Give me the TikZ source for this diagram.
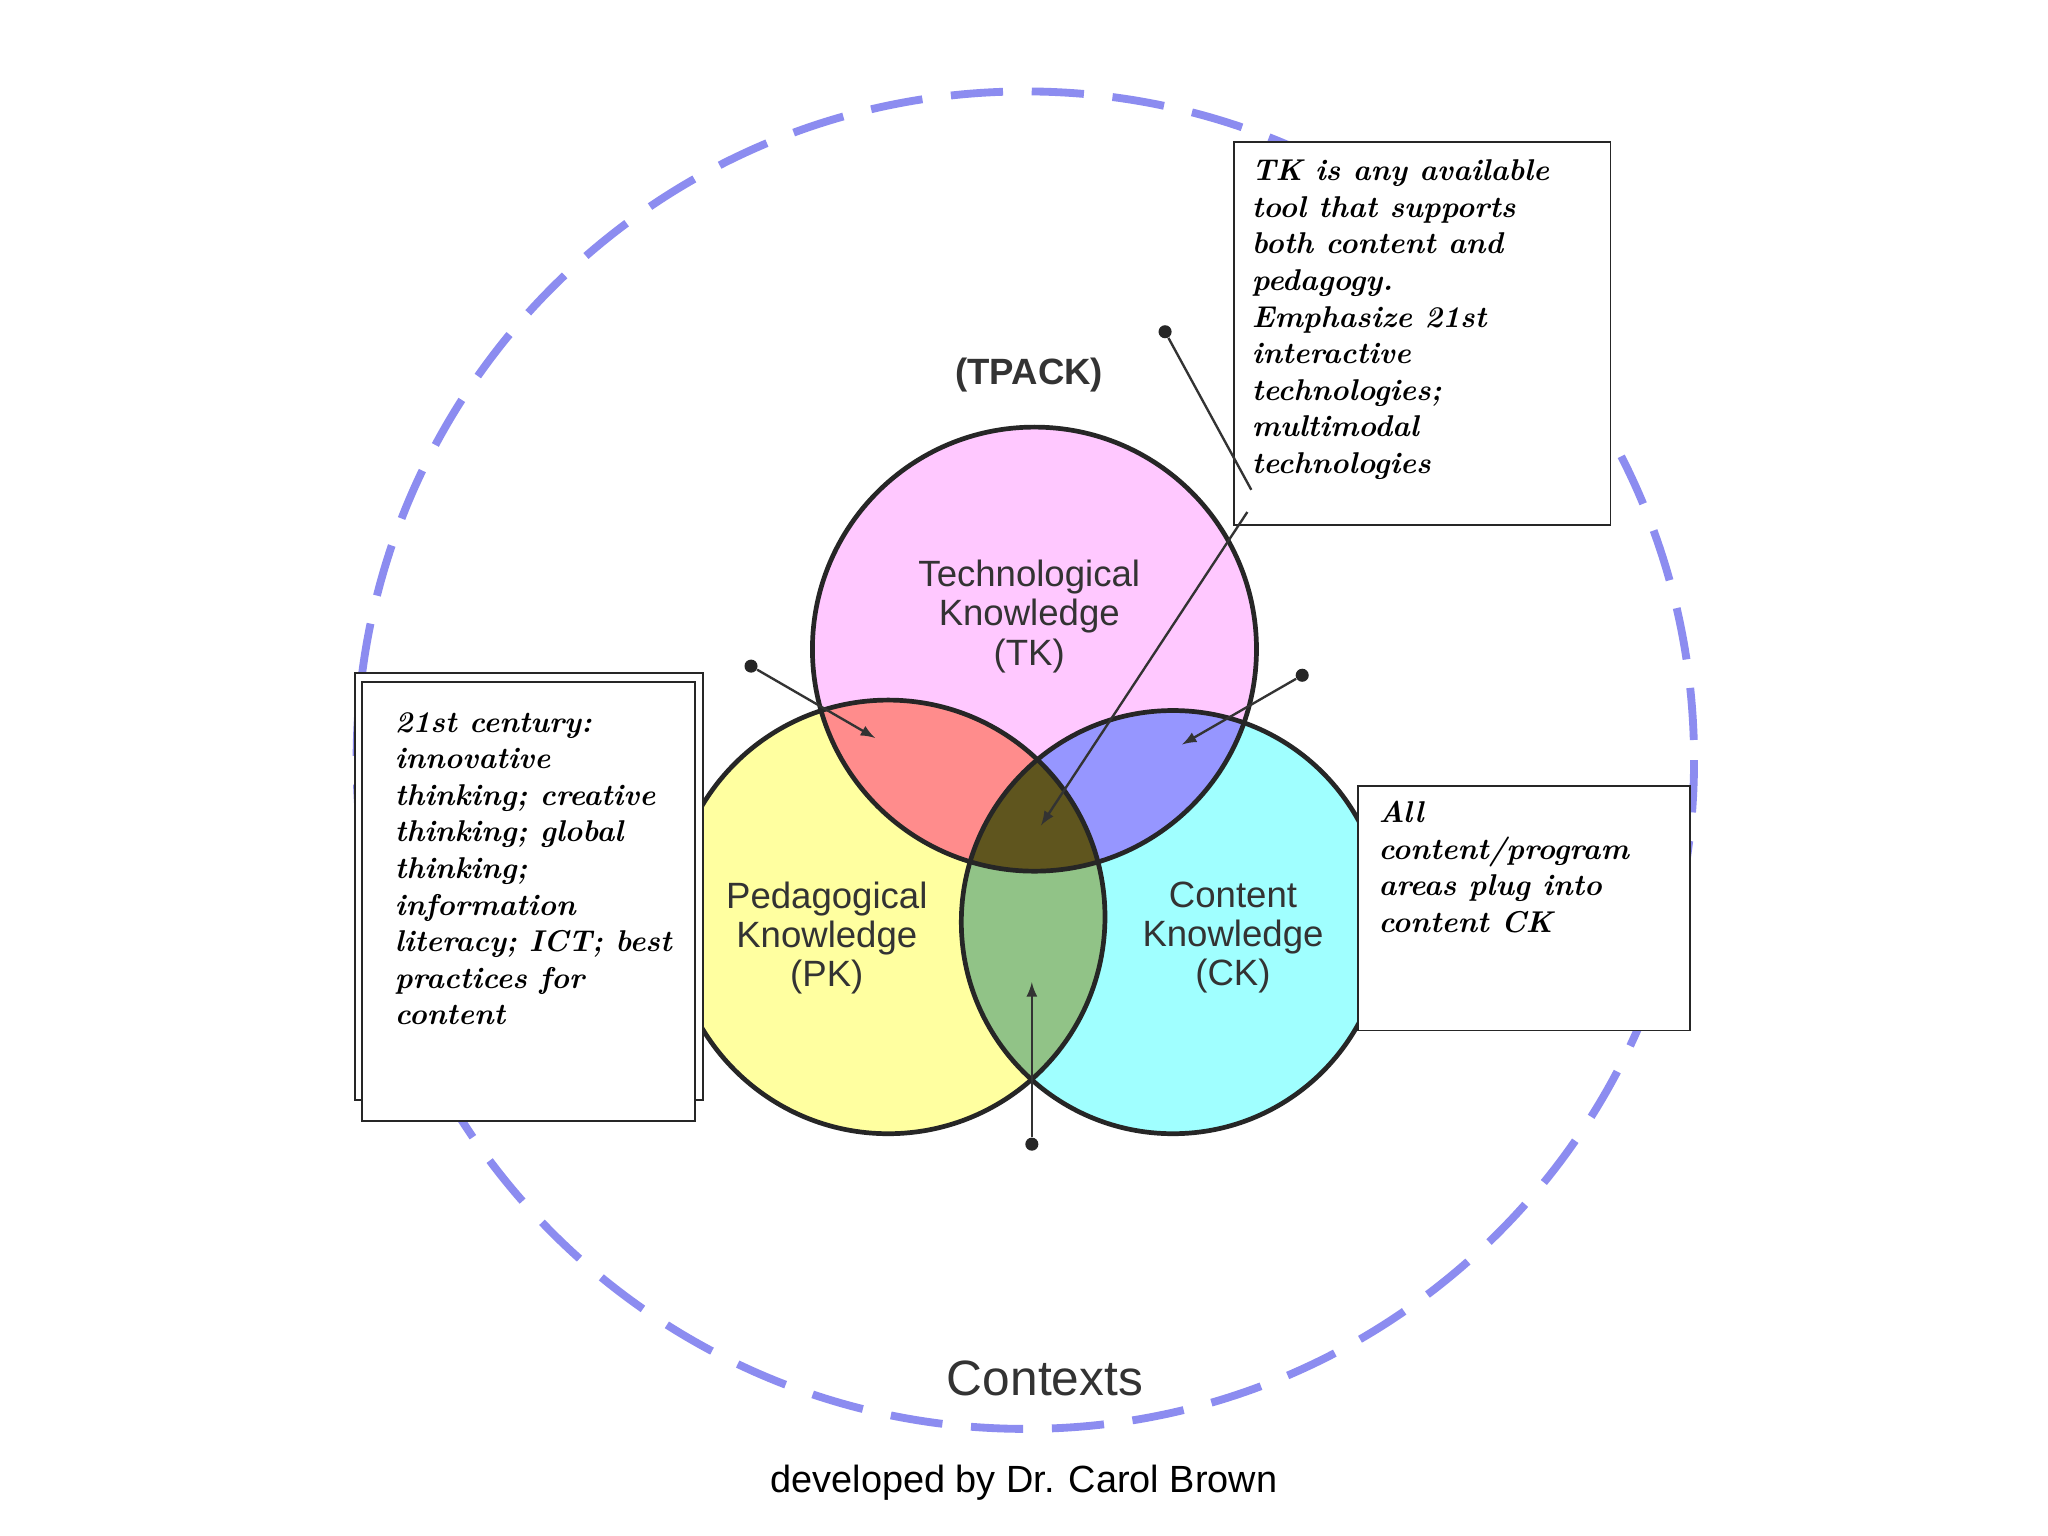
\documentclass[tikz,border=0pt]{standalone}
\usepackage{fontspec}
\setsansfont{Liberation Sans}
\begin{document}
\begin{tikzpicture}[x=0.5pt,y=-0.5pt,
  lbl/.style={font=\sffamily\fontsize{14}{15}\selectfont,align=center,text=black!80},
  note/.style={font=\bfseries\itshape\fontsize{11.5}{14}\selectfont,align=left,anchor=north west,inner sep=0pt},
  box/.style={draw=black!85,fill=white,line width=0.7pt},
  ring/.style={draw=black!85,line width=1.8pt},
  ptr/.style={draw=black!80,line width=0.9pt,-latex},
  dot/.style={circle,fill=black!85,inner sep=0pt,minimum size=5pt}]
\useasboundingbox (0,0) rectangle (1568,1176);
\fill[white] (0,0) rectangle (1568,1176);
\draw[color={rgb,255:red,140;green,140;blue,240},line width=3pt,dash pattern=on 20pt off 11pt] (785,582) circle (512);
% circles
\coordinate (tc) at (792,497);
\coordinate (pc) at (680,702);
\coordinate (cc) at (898,706);
\fill[color={rgb,255:red,255;green,200;blue,255}] (tc) circle (170);
\fill[color={rgb,255:red,255;green,255;blue,160}] (pc) circle (166);
\fill[color={rgb,255:red,160;green,255;blue,255}] (cc) circle (162);
\begin{scope}\clip (tc) circle (170);
  \fill[color={rgb,255:red,255;green,140;blue,140}] (pc) circle (166);
  \fill[color={rgb,255:red,150;green,150;blue,255}] (cc) circle (162);
\end{scope}
\begin{scope}\clip (pc) circle (166);
  \fill[color={rgb,255:red,145;green,195;blue,135}] (cc) circle (162);
  \clip (cc) circle (162);
  \fill[color={rgb,255:red,95;green,85;blue,30}] (tc) circle (170);
\end{scope}
\draw[ring] (tc) circle (170);
\draw[ring] (pc) circle (166);
\draw[ring] (cc) circle (162);
\node[lbl] (tk) at (788,472) {Technological\\Knowledge\\(TK)};
\node[lbl] (pk) at (633,718) {Pedagogical\\Knowledge\\(PK)};
\node[lbl] (ck) at (944,718) {Content\\Knowledge\\(CK)};
\node[font=\sffamily\bfseries\fontsize{14}{15}\selectfont,text=black!80] (tp) at (788,287) {(TPACK)};
\node[font=\sffamily\fontsize{19}{20}\selectfont,text=black!80] (ctx) at (800,1055) {Contexts};
\node[font=\sffamily\fontsize{14.5}{16}\selectfont] (dev) at (784,1135) {developed by Dr. Carol Brown};
% boxes
\draw[box] (272,515) rectangle (538,842);
\draw[box] (277,522) rectangle (532,858);
\draw[black!85,line width=0.7pt] (272,842) -- (272,515) -- (538,515) -- (538,842);
\node[note] (lt) at (302,545) {21st century:\\innovative\\thinking; creative\\thinking; global\\thinking;\\information\\literacy; ICT; best\\practices for\\content};
\draw[box] (945,109) rectangle (1233,402);
\node[note] (tt) at (958,122) {TK is any available\\tool that supports\\both content and\\pedagogy.\\Emphasize 21st\\interactive\\technologies;\\multimodal\\technologies};
\draw[box] (1040,602) rectangle (1294,789);
\node[note] (ct) at (1055,613) {All\\content/program\\areas plug into\\content CK};
% pointers
\node[dot] (d1) at (575,510) {};
\coordinate (a1) at (670,565);
\draw[ptr] (d1) -- (a1);
\node[dot] (d2) at (997,517) {};
\coordinate (a2) at (905,570);
\draw[ptr] (d2) -- (a2);
\node[dot] (d3) at (892,254) {};
\coordinate (m3) at (958,375);
\coordinate (s3) at (955,392);
\coordinate (a3) at (797,632);
\draw[black!80,line width=0.9pt] (d3) -- (m3);
\draw[ptr] (s3) -- (a3);
\node[dot] (d4) at (790,876) {};
\coordinate (a4) at (790,752);
\draw[ptr] (d4) -- (a4);
\end{tikzpicture}
\end{document}
